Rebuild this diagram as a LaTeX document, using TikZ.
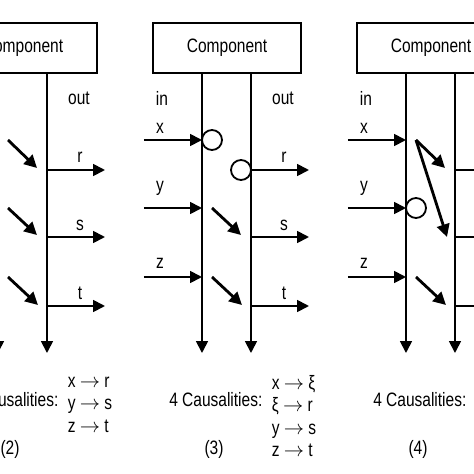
\documentclass[tikz,border=0pt]{standalone}
\usepackage{fontspec}
\setmainfont{Liberation Sans}[FakeStretch=0.8]
\usepackage{tikz}
\usetikzlibrary{arrows.meta}

\begin{document}
\begin{tikzpicture}[
        every node/.style={font=\fontsize{13.8}{16.1}\selectfont},
        comp/.style={draw, line width=1.3pt, minimum width=3.7cm, minimum height=1.25cm, inner sep=0pt},
        wire/.style={line width=1.3pt, -{Triangle[length=8.5pt,width=8.5pt]}},
        cause/.style={line width=2pt, -{Triangle[length=9pt,width=9pt]}},
        dot/.style={circle, draw, fill=white, line width=1.3pt, minimum size=0.5cm, inner sep=0pt}]
        \useasboundingbox (-5.925cm, -5.925cm) rectangle (5.925cm, 5.925cm);
        \clip (-5.925cm, -5.925cm) rectangle (5.925cm, 5.925cm);
        % panel (2)
        \node (comp2) [comp] at (-5.350000cm, 4.725000cm) {Component};
        \coordinate (a2) at (-5.975000cm, 4.100000cm);
        \coordinate (a2e) at (-5.975000cm, -2.900000cm);
        \coordinate (b2) at (-4.750000cm, 4.100000cm);
        \coordinate (b2e) at (-4.750000cm, -2.900000cm);
        \node (out2) at (-3.950000cm, 3.475000cm) {out};
        \coordinate (d2x) at (-5.725000cm, 2.425000cm);
        \coordinate (d2xe) at (-5.000000cm, 1.725000cm);
        \coordinate (d2y) at (-5.725000cm, 0.725000cm);
        \coordinate (d2ye) at (-5.000000cm, 0.050000cm);
        \coordinate (d2z) at (-5.725000cm, -1.000000cm);
        \coordinate (d2ze) at (-4.975000cm, -1.700000cm);
        \coordinate (r2) at (-4.750000cm, 1.675000cm);
        \coordinate (r2e) at (-3.300000cm, 1.675000cm);
        \coordinate (s2) at (-4.750000cm, 0.000000cm);
        \coordinate (s2e) at (-3.300000cm, 0.000000cm);
        \coordinate (t2) at (-4.750000cm, -1.725000cm);
        \coordinate (t2e) at (-3.300000cm, -1.725000cm);
        \node (lr2) at (-3.925000cm, 2.000000cm) {r};
        \node (ls2) at (-3.925000cm, 0.300000cm) {s};
        \node (lt2) at (-3.925000cm, -1.400000cm) {t};
        \node (cs2) [anchor=east] at (-4.340000cm, -4.075000cm) {3 Causalities:};
        \node (map2) [anchor=west, align=left] at (-4.355000cm, -4.190000cm) {x $\rightarrow$ r\\y $\rightarrow$ s\\z $\rightarrow$ t};
        \node (n2) at (-5.675000cm, -5.300000cm) {(2)};
        \draw (comp2.south -| a2) edge [wire] (a2e);
        \draw (comp2.south -| b2) edge [wire] (b2e);
        \draw (d2x) edge [cause] (d2xe);
        \draw (d2y) edge [cause] (d2ye);
        \draw (d2z) edge [cause] (d2ze);
        \draw (r2) edge [wire] (r2e);
        \draw (s2) edge [wire] (s2e);
        \draw (t2) edge [wire] (t2e);
        % panel (3)
        \node (comp3) [comp] at (-0.250000cm, 4.725000cm) {Component};
        \coordinate (a3) at (-0.875000cm, 4.100000cm);
        \coordinate (a3e) at (-0.875000cm, -2.900000cm);
        \coordinate (b3) at (0.350000cm, 4.100000cm);
        \coordinate (b3e) at (0.350000cm, -2.900000cm);
        \node (in3) at (-1.875000cm, 3.475000cm) {in};
        \node (out3) at (1.150000cm, 3.475000cm) {out};
        \node (lx3) at (-1.925000cm, 2.725000cm) {x};
        \node (ly3) at (-1.925000cm, 1.225000cm) {y};
        \node (lz3) at (-1.925000cm, -0.650000cm) {z};
        \coordinate (x3) at (-2.325000cm, 2.425000cm);
        \coordinate (x3e) at (-0.875000cm, 2.425000cm);
        \coordinate (y3) at (-2.325000cm, 0.725000cm);
        \coordinate (y3e) at (-0.875000cm, 0.725000cm);
        \coordinate (z3) at (-2.325000cm, -1.000000cm);
        \coordinate (z3e) at (-0.875000cm, -1.000000cm);
        \coordinate (d3y) at (-0.625000cm, 0.725000cm);
        \coordinate (d3ye) at (0.100000cm, 0.050000cm);
        \coordinate (d3z) at (-0.625000cm, -1.000000cm);
        \coordinate (d3ze) at (0.125000cm, -1.700000cm);
        \coordinate (r3) at (0.350000cm, 1.675000cm);
        \coordinate (r3e) at (1.800000cm, 1.675000cm);
        \coordinate (s3) at (0.350000cm, 0.000000cm);
        \coordinate (s3e) at (1.800000cm, 0.000000cm);
        \coordinate (t3) at (0.350000cm, -1.725000cm);
        \coordinate (t3e) at (1.800000cm, -1.725000cm);
        \node (lr3) at (1.175000cm, 2.000000cm) {r};
        \node (ls3) at (1.175000cm, 0.300000cm) {s};
        \node (lt3) at (1.175000cm, -1.400000cm) {t};
        \node (cs3) [anchor=east] at (0.760000cm, -4.075000cm) {4 Causalities:};
        \node (map3) [anchor=west, align=left] at (0.745000cm, -4.475000cm) {x $\rightarrow$ ξ\\ξ $\rightarrow$ r\\y $\rightarrow$ s\\z $\rightarrow$ t};
        \node (n3) at (-0.575000cm, -5.300000cm) {(3)};
        \draw (comp3.south -| a3) edge [wire] (a3e);
        \draw (comp3.south -| b3) edge [wire] (b3e);
        \draw (x3) edge [wire] (x3e);
        \draw (y3) edge [wire] (y3e);
        \draw (z3) edge [wire] (z3e);
        \draw (d3y) edge [cause] (d3ye);
        \draw (d3z) edge [cause] (d3ze);
        \draw (r3) edge [wire] (r3e);
        \draw (s3) edge [wire] (s3e);
        \draw (t3) edge [wire] (t3e);
        \node (c3x) [dot] at (-0.625000cm, 2.425000cm) {};
        \node (c3r) [dot] at (0.100000cm, 1.675000cm) {};
        % panel (4)
        \node (comp4) [comp] at (4.850000cm, 4.725000cm) {Component};
        \coordinate (a4) at (4.225000cm, 4.100000cm);
        \coordinate (a4e) at (4.225000cm, -2.900000cm);
        \coordinate (b4) at (5.450000cm, 4.100000cm);
        \coordinate (b4e) at (5.450000cm, -2.900000cm);
        \node (in4) at (3.225000cm, 3.475000cm) {in};
        \node (lx4) at (3.175000cm, 2.725000cm) {x};
        \node (ly4) at (3.175000cm, 1.225000cm) {y};
        \node (lz4) at (3.175000cm, -0.650000cm) {z};
        \coordinate (x4) at (2.775000cm, 2.425000cm);
        \coordinate (x4e) at (4.225000cm, 2.425000cm);
        \coordinate (y4) at (2.775000cm, 0.725000cm);
        \coordinate (y4e) at (4.225000cm, 0.725000cm);
        \coordinate (z4) at (2.775000cm, -1.000000cm);
        \coordinate (z4e) at (4.225000cm, -1.000000cm);
        \coordinate (d4x) at (4.475000cm, 2.425000cm);
        \coordinate (d4xr) at (5.200000cm, 1.725000cm);
        \coordinate (d4xs) at (5.250000cm, 0.000000cm);
        \coordinate (d4z) at (4.475000cm, -1.000000cm);
        \coordinate (d4ze) at (5.225000cm, -1.700000cm);
        \coordinate (r4) at (5.450000cm, 1.675000cm);
        \coordinate (r4e) at (6.900000cm, 1.675000cm);
        \coordinate (s4) at (5.450000cm, 0.000000cm);
        \coordinate (s4e) at (6.900000cm, 0.000000cm);
        \coordinate (t4) at (5.450000cm, -1.725000cm);
        \coordinate (t4e) at (6.900000cm, -1.725000cm);
        \node (cs4) [anchor=east] at (5.860000cm, -4.075000cm) {4 Causalities:};
        \node (n4) at (4.525000cm, -5.300000cm) {(4)};
        \draw (comp4.south -| a4) edge [wire] (a4e);
        \draw (comp4.south -| b4) edge [wire] (b4e);
        \draw (x4) edge [wire] (x4e);
        \draw (y4) edge [wire] (y4e);
        \draw (z4) edge [wire] (z4e);
        \draw (d4x) edge [cause] (d4xr);
        \draw (d4x) edge [cause] (d4xs);
        \draw (d4z) edge [cause] (d4ze);
        \draw (r4) edge [wire] (r4e);
        \draw (s4) edge [wire] (s4e);
        \draw (t4) edge [wire] (t4e);
        \node (c4y) [dot] at (4.475000cm, 0.725000cm) {};
\end{tikzpicture}
\end{document}
